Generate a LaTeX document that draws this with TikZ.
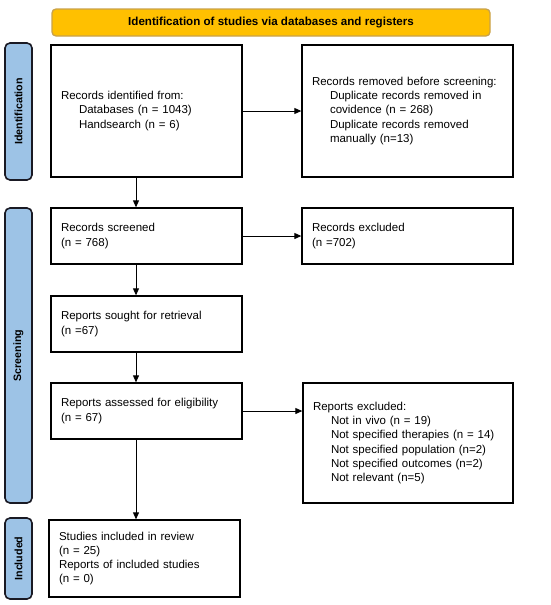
\documentclass[tikz,border=0pt]{standalone}
\usepackage{fontspec}
\setmainfont{Liberation Sans}
\usetikzlibrary{arrows.meta}
\definecolor{hdrfill}{HTML}{FFC000}
\definecolor{hdrline}{HTML}{C9A24A}
\definecolor{barfill}{HTML}{9DC3E6}
\definecolor{barline}{HTML}{1A1A24}
\begin{document}
\begin{tikzpicture}[x=1pt,y=-1pt,
  box/.style={draw=black,line width=1.3pt,fill=white,inner xsep=10pt,inner ysep=0pt,
    align=left,font=\fontsize{11.5}{14.2}\selectfont},
  bar/.style={draw=barline,line width=1.6pt,fill=barfill,rounded corners=5pt},
  bartext/.style={font=\bfseries\fontsize{10.7}{12}\selectfont,rotate=90},
  arr/.style={line width=0.9pt,-{Triangle[length=7pt,width=6pt]}}]
\useasboundingbox (0,0) rectangle (550,605);
% header
\node[draw=hdrline,line width=1.3pt,fill=hdrfill,rounded corners=4pt,minimum width=438pt,minimum height=27pt,
  font=\bfseries\fontsize{11.6}{12}\selectfont] (hdr) at (271,22.5) {Identification of studies via databases and registers};
% side bars
\node[bar,minimum width=27pt,minimum height=137pt] (bid) at (18.5,111.5) {};
\node[bartext] at (bid) {Identification};
\node[bar,minimum width=27pt,minimum height=295pt] (bscr) at (18.5,355.5) {};
\node[bartext] at (bscr) {Screening};
\node[bar,minimum width=27pt,minimum height=81pt] (binc) at (18.5,558.5) {};
\node[bartext] at (binc) {Included};
% boxes
\node[box,minimum width=191pt,minimum height=132pt,text width=171pt] (idb) at (146.5,111)
  {Records identified from:\\\hspace*{18pt}Databases (n = 1043)\\\hspace*{18pt}Handsearch (n = 6)};
\node[box,minimum width=211pt,minimum height=132pt,text width=191pt] (rem) at (407.5,111)
  {Records removed before screening:\\\hspace*{18pt}Duplicate records removed in\\\hspace*{18pt}covidence (n = 268)\\\hspace*{18pt}Duplicate records removed\\\hspace*{18pt}manually (n=13)};
\node[box,minimum width=191pt,minimum height=56pt,text width=171pt] (scr) at (146.5,236)
  {Records screened\\(n = 768)};
\node[box,minimum width=211pt,minimum height=56pt,text width=191pt] (exc) at (407.5,236)
  {Records excluded\\(n =702)};
\node[box,minimum width=191pt,minimum height=56pt,text width=171pt] (sou) at (146.5,324)
  {Reports sought for retrieval\\(n =67)};
\node[box,minimum width=191pt,minimum height=56pt,text width=171pt] (ass) at (146.5,411)
  {Reports assessed for eligibility\\(n = 67)};
\node[box,minimum width=210pt,minimum height=120pt,text width=190pt] (rex) at (408,443)
  {Reports excluded:\\\hspace*{18pt}Not in vivo (n = 19)\\\hspace*{18pt}Not specified therapies (n = 14)\\\hspace*{18pt}Not specified population (n=2)\\\hspace*{18pt}Not specified outcomes (n=2)\\\hspace*{18pt}Not relevant (n=5)};
\node[box,minimum width=191pt,minimum height=77pt,text width=171pt] (inc) at (144.5,558.5)
  {Studies included in review\\(n = 25)\\Reports of included studies\\(n = 0)};
% connectors
\coordinate (colx) at (136,0);
\draw[arr] (idb.east) -- (rem.west);
\draw[arr] (scr.east) -- (exc.west);
\draw[arr] (ass.east) -- (ass.east -| rex.west);
\draw[arr] (idb.south -| colx) -- (scr.north -| colx);
\draw[arr] (scr.south -| colx) -- (sou.north -| colx);
\draw[arr] (sou.south -| colx) -- (ass.north -| colx);
\draw[arr] (ass.south -| colx) -- (inc.north -| colx);
\end{tikzpicture}
\end{document}
